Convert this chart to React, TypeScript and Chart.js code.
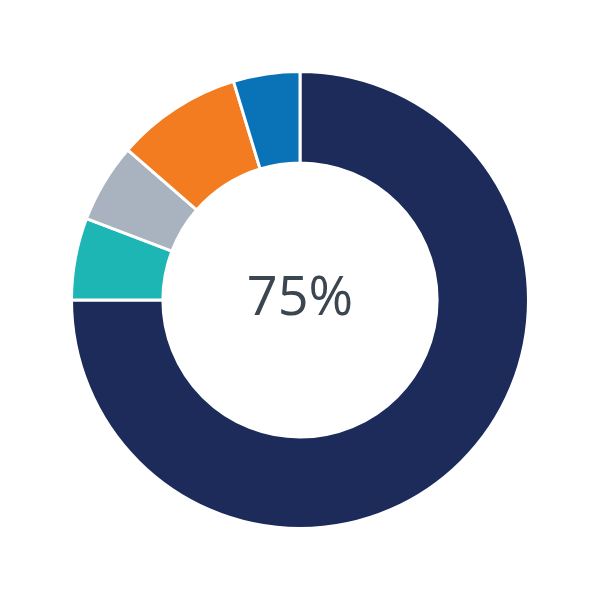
import React, { useEffect, useRef } from "react";
import { Chart, registerables } from "chart.js";

Chart.register(...registerables);

const labels = ["Main", "Teal", "Gray", "Orange", "Blue"];
const values = [75, 5.8, 5.6, 8.9, 4.7];
const colors = ["#1c2b5a", "#1eb5b5", "#a9b3c0", "#f37c20", "#0a73b7"];
const centerText = "75%";
const FONT = "54px 'Open Sans', 'Noto Sans', sans-serif";

const centerPlugin = {
  id: "centerText",
  afterDraw(chart: any) {
    const { ctx } = chart;
    const meta = chart.getDatasetMeta(0);
    const arc = meta.data[0];
    if (!arc) return;
    ctx.save();
    ctx.fillStyle = "#3b4651";
    ctx.font = FONT;
    ctx.textAlign = "center";
    ctx.textBaseline = "middle";
    ctx.fillText(centerText, arc.x, arc.y);
    ctx.restore();
  },
};

export default function App() {
  const ref = useRef<HTMLCanvasElement>(null);
  useEffect(() => {
    document.body.style.margin = "0";
    const chart = new Chart(ref.current!, {
      type: "doughnut",
      data: {
        labels,
        datasets: [
          {
            data: values,
            backgroundColor: colors,
            borderColor: "#ffffff",
            borderWidth: 3,
          },
        ],
      },
      options: {
        animation: false,
        responsive: false,
        cutout: "60%",
        layout: { padding: 70 },
        plugins: { legend: { display: false }, tooltip: { enabled: false } },
      },
      plugins: [centerPlugin],
    });
    let alive = true;
    const redraw = () => {
      if (alive) chart.draw();
    };
    const fonts = (document as any).fonts;
    if (fonts && fonts.load) {
      fonts.load("54px 'Open Sans'", centerText).then(redraw);
      fonts.ready.then(redraw);
    }
    const t1 = setTimeout(redraw, 100);
    const t2 = setTimeout(redraw, 400);
    return () => {
      alive = false;
      clearTimeout(t1);
      clearTimeout(t2);
      chart.destroy();
    };
  }, []);
  return (
    <div style={{ width: 600, height: 600, position: "absolute", left: 0, top: 0 }}>
      <span
        style={{
          position: "absolute",
          left: 0,
          top: 0,
          fontFamily: "'Open Sans'",
          fontSize: 54,
          color: "transparent",
          pointerEvents: "none",
        }}
      >
        {centerText}
      </span>
      <canvas ref={ref} width={600} height={600} style={{ width: 600, height: 600, position: "absolute", left: 0, top: 0 }} />
    </div>
  );
}
